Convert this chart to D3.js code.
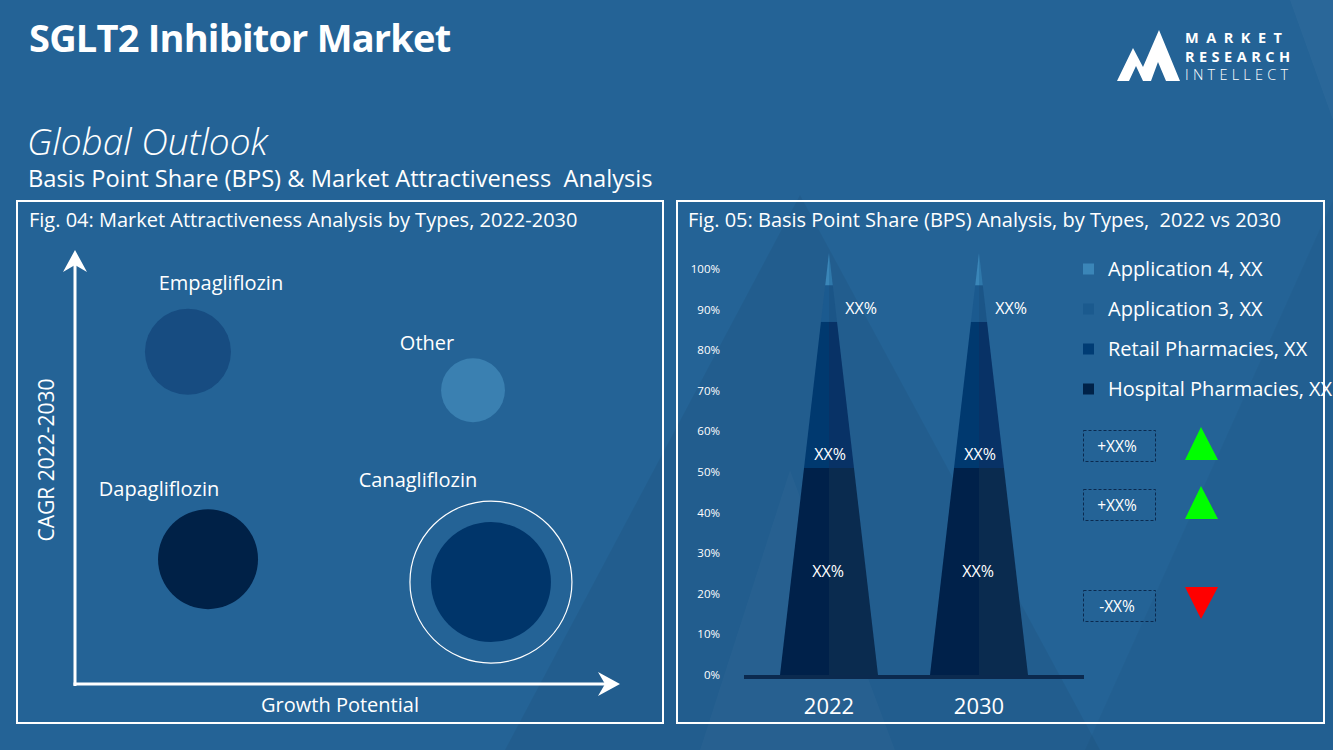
<!DOCTYPE html>
<html>
<head>
<meta charset="utf-8">
<script src="https://cdn.jsdelivr.net/npm/d3@7/dist/d3.min.js"></script>
<style>
  html, body { margin: 0; padding: 0; background: #246396; }
  svg { display: block; }
  text { font-family: "Open Sans", "Noto Sans", sans-serif; fill: #fff; white-space: pre; }
</style>
</head>
<body>
<svg id="chart" width="1333" height="750"></svg>
<script>
// ---------------- DATA ----------------
const bubbleNames  = ["Empagliflozin", "Other", "Dapagliflozin", "Canagliflozin"];
const bubbleGrowth = [2.08, 7.33, 2.45, 7.66];   // Growth Potential (x)
const bubbleCagr   = [7.69, 6.80, 2.89, 2.36];   // CAGR 2022-2030 (y)
const bubbleSize   = [18.5, 10.2, 25, 36];       // relative market size
const bubbleHighlight = [false, false, false, true];

const years    = ["2022", "2030"];
const segments = ["Hospital Pharmacies", "Retail Pharmacies", "Application 3", "Application 4"];
const share2022 = [51, 36, 9, 8];
const share2030 = [51, 36, 9, 8];
const segLabels = ["XX%", "XX%", "XX%", ""];
const yTicks = [0, 10, 20, 30, 40, 50, 60, 70, 80, 90, 100];

const legendItems = ["Application 4, XX", "Application 3, XX", "Retail Pharmacies, XX", "Hospital Pharmacies, XX"];
const changeLabels = ["+XX%", "+XX%", "-XX%"];
const changeDir    = ["up", "up", "down"];

// ---------------- STYLE ----------------
const bubbleColors = {"Empagliflozin": "#174c81", "Other": "#3a80b1", "Dapagliflozin": "#002147", "Canagliflozin": "#00356a"};
const labelOffset = {"Empagliflozin": [33, 19], "Other": [-46, 8], "Dapagliflozin": [-49, 13], "Canagliflozin": [-73, 14]};
const segColorsL = ["#00214a", "#00396f", "#1b5a8f", "#3a86b8"];
const segColorsR = ["#0a2b4f", "#083266", "#1b5587", "#2f78aa"];
const legendColors = ["#3b86b8", "#1b5a8e", "#003c74", "#002248"];

const svg = d3.select("#chart");

// background subtle mountains
const bg = svg.append("g");
bg.append("rect").attr("width", 1333).attr("height", 750).attr("fill", "#246396");
bg.append("polygon").attr("points", "800,195 505,750 1100,750").attr("fill", "#000").attr("opacity", 0.05);
bg.append("polygon").attr("points", "790,470 700,750 895,750").attr("fill", "#fff").attr("opacity", 0.025);
bg.append("polygon").attr("points", "1333,200 1085,750 1333,750").attr("fill", "#000").attr("opacity", 0.03);
bg.append("polygon").attr("points", "1333,0 1290,0 1333,120").attr("fill", "#fff").attr("opacity", 0.03);

// ---------------- HEADER ----------------
svg.append("text").attr("x", 29).attr("y", 52).attr("font-size", 38).attr("font-weight", 700)
  .attr("letter-spacing", -0.8).text("SGLT2 Inhibitor Market");
svg.append("text").attr("x", 27).attr("y", 155).attr("font-size", 37).attr("font-style", "italic")
  .attr("font-weight", 300).text("Global Outlook");
svg.append("text").attr("x", 28).attr("y", 187).attr("font-size", 23.7)
  .text("Basis Point Share (BPS) & Market Attractiveness  Analysis");

// logo
const logo = svg.append("g");
logo.append("polygon")
  .attr("points", "1117,81 1133,48 1143,67 1159,30 1180,81 1166,81 1158,62 1151,81 1143,81 1136,66 1129,81")
  .attr("fill", "#fff");
logo.append("text").attr("x", 1185).attr("y", 43).attr("font-size", 14.5).attr("font-weight", 700)
  .attr("textLength", 97).attr("lengthAdjust", "spacing").text("MARKET");
logo.append("text").attr("x", 1185).attr("y", 61.5).attr("font-size", 14.5).attr("font-weight", 700)
  .attr("textLength", 105).attr("lengthAdjust", "spacing").text("RESEARCH");
logo.append("text").attr("x", 1185).attr("y", 80).attr("font-size", 14.5).attr("font-weight", 300)
  .attr("textLength", 103).attr("lengthAdjust", "spacing").text("INTELLECT");

// ---------------- PANELS ----------------
svg.append("rect").attr("x", 17).attr("y", 201).attr("width", 646).attr("height", 522)
  .attr("fill", "none").attr("stroke", "#fff").attr("stroke-width", 2);
svg.append("rect").attr("x", 677).attr("y", 201).attr("width", 647).attr("height", 522)
  .attr("fill", "none").attr("stroke", "#fff").attr("stroke-width", 2);

svg.append("text").attr("x", 29).attr("y", 227).attr("font-size", 20)
  .text("Fig. 04: Market Attractiveness Analysis by Types, 2022-2030");
svg.append("text").attr("x", 688).attr("y", 227).attr("font-size", 20)
  .text("Fig. 05: Basis Point Share (BPS) Analysis, by Types,  2022 vs 2030");

// ---------------- LEFT: BUBBLE CHART ----------------
const bx = d3.scaleLinear().domain([0, 10]).range([75, 618]);
const by = d3.scaleLinear().domain([0, 10]).range([684, 252]);
const br = d3.scaleSqrt().domain([0, d3.max(bubbleSize)]).range([0, 60]);

const left = svg.append("g");
left.append("line").attr("x1", bx(0)).attr("x2", bx(0)).attr("y1", by(0) + 2).attr("y2", by(10) + 12)
  .attr("stroke", "#fff").attr("stroke-width", 3);
left.append("line").attr("x1", bx(0) - 1.5).attr("x2", bx(10) - 12).attr("y1", by(0)).attr("y2", by(0))
  .attr("stroke", "#fff").attr("stroke-width", 3);
const tipY = by(10), tipX = bx(10);
left.append("polygon")
  .attr("points", `${bx(0)},${tipY-2} ${bx(0)+12},${tipY+20} ${bx(0)},${tipY+13} ${bx(0)-12},${tipY+20}`)
  .attr("fill", "#fff");
left.append("polygon")
  .attr("points", `${tipX+2},${by(0)} ${tipX-20},${by(0)-12} ${tipX-13},${by(0)} ${tipX-20},${by(0)+12}`)
  .attr("fill", "#fff");

left.append("text").attr("x", 340).attr("y", 712).attr("font-size", 20).attr("text-anchor", "middle")
  .text("Growth Potential");
left.append("text").attr("transform", "translate(54,460) rotate(-90)").attr("font-size", 21)
  .attr("text-anchor", "middle").text("CAGR 2022-2030");

const bubbles = bubbleNames.map((n, i) => ({name: n, x: bubbleGrowth[i], y: bubbleCagr[i], s: bubbleSize[i], hl: bubbleHighlight[i]}));

bubbles.forEach(d => {
  const cx = bx(d.x), cy = by(d.y), r = br(d.s);
  if (d.hl) {
    left.append("circle").attr("cx", cx).attr("cy", cy).attr("r", r + 21)
      .attr("fill", "none").attr("stroke", "#fff").attr("stroke-width", 1.2);
  }
  left.append("circle").attr("cx", cx).attr("cy", cy).attr("r", r).attr("fill", bubbleColors[d.name]);
  const top = cy - r - (d.hl ? 21 : 0);
  const off = labelOffset[d.name];
  left.append("text").attr("x", cx + off[0]).attr("y", top - off[1]).attr("font-size", 20)
    .attr("text-anchor", "middle").text(d.name);
});

// ---------------- RIGHT: CONE CHART ----------------
const right = svg.append("g");
const yS = d3.scaleLinear().domain([0, 100]).range([675, 269]);
const xS = d3.scalePoint().domain(years).range([829, 979]);
const halfBase = 49;

right.selectAll(".tick").data(yTicks).join("text")
  .attr("x", 720).attr("y", d => yS(d) + 4).attr("font-size", 11.5).attr("text-anchor", "end")
  .text(d => d + "%");

right.append("rect").attr("x", 744).attr("y", yS(0)).attr("width", 340).attr("height", 4).attr("fill", "#0b2a4f");

const shares = {"2022": share2022, "2030": share2030};

years.forEach(yr => {
  const vals = shares[yr];
  const total = d3.sum(vals);
  const cx = xS(yr);
  const y0 = yS(0), yA = yS(total);
  const hw = v => halfBase * (yS(v) - yA) / (y0 - yA);
  let acc = 0;
  vals.forEach((v, i) => {
    const a = acc, b = acc + v;
    acc = b;
    const ya = yS(a), yb = yS(b);
    const wa = hw(a), wb = hw(b);
    right.append("polygon")
      .attr("points", `${cx-wa},${ya} ${cx},${ya} ${cx},${yb} ${cx-wb},${yb}`)
      .attr("fill", segColorsL[i]);
    right.append("polygon")
      .attr("points", `${cx},${ya} ${cx+wa},${ya} ${cx+wb},${yb} ${cx},${yb}`)
      .attr("fill", segColorsR[i]);
    if (segLabels[i]) {
      let ty, tx;
      if (i === 0) { ty = (ya + yb) / 2; tx = cx - 1; }
      else if (i === 1) { ty = ya - 13; tx = cx + 1; }
      else { ty = (ya + yb) / 2 + 5; tx = cx + 32; }
      right.append("text").attr("x", tx).attr("y", ty + 5.5).attr("font-size", 16)
        .attr("text-anchor", "middle").text(segLabels[i]);
    }
  });
  right.append("text").attr("x", cx).attr("y", 714).attr("font-size", 22).attr("text-anchor", "middle").text(yr);
});

// legend
legendItems.forEach((t, i) => {
  const ly = 269 + i * 40;
  right.append("rect").attr("x", 1083).attr("y", ly - 5.5).attr("width", 11).attr("height", 11).attr("fill", legendColors[i]);
  right.append("text").attr("x", 1108).attr("y", ly + 7).attr("font-size", 20).text(t);
});

// change boxes
const boxY = [430, 489, 590];
changeLabels.forEach((t, i) => {
  const y = boxY[i];
  right.append("rect").attr("x", 1083.5).attr("y", y + 0.5).attr("width", 72).attr("height", 31)
    .attr("fill", "none").attr("stroke", "#0b2a4f").attr("stroke-width", 1).attr("stroke-dasharray", "3,2");
  right.append("text").attr("x", 1117).attr("y", y + 21.5).attr("font-size", 15.5).attr("text-anchor", "middle").text(t);
  const pts = changeDir[i] === "up"
    ? `1201,${y-3} 1218,${y+30} 1185,${y+30}`
    : `1185,${y-3} 1218,${y-3} 1201,${y+29}`;
  right.append("polygon").attr("points", pts).attr("fill", changeDir[i] === "up" ? "#00ff00" : "#ff0000");
});
</script>
</body>
</html>
